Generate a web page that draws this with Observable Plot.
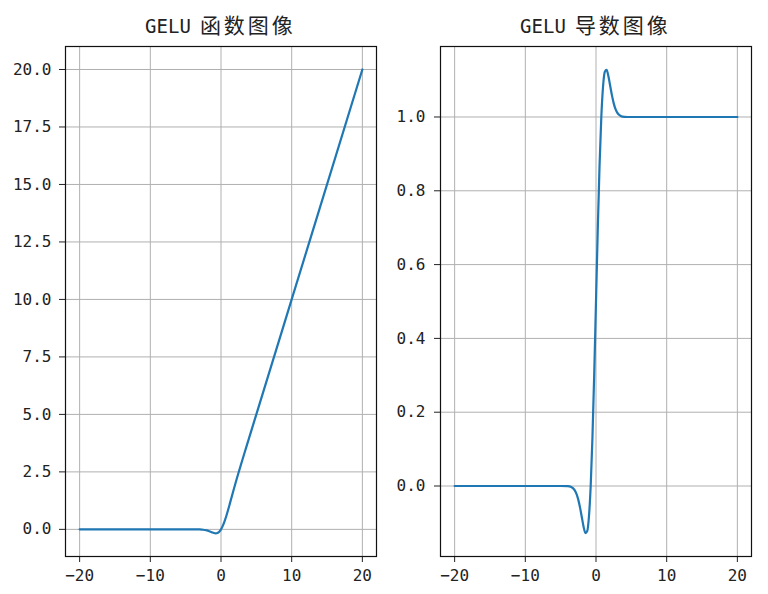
<!DOCTYPE html>
<html>
<head>
<meta charset="utf-8">
<script src="https://cdn.jsdelivr.net/npm/d3@7"></script>
<script src="https://cdn.jsdelivr.net/npm/@observablehq/plot@0.6"></script>
<style>
  html, body { margin: 0; padding: 0; background: #fff; }
  #wrap { position: relative; width: 768px; height: 594px; overflow: hidden; }
  .panel { position: absolute; top: 40px; }
  .title { position: absolute; top: 10px; text-align: center; color: #222; white-space: nowrap; line-height: 28px; }
  .title .lat { font-family: "DejaVu Sans Mono", monospace; font-size: 19px; }
  .title .cjk { font-family: "Noto Sans CJK SC", sans-serif; font-size: 21px; letter-spacing: 3px; margin-left: 9px; }
</style>
</head>
<body>
<div id="wrap"></div>
<script>
// ---- data ----
const geluX = [-20, -10, -5, -4, -3.5, -3, -2.75, -2.5, -2.25, -2, -1.75, -1.5, -1.25, -1, -0.75, -0.5, -0.25, 0, 0.25, 0.5, 0.75, 1, 1.25, 1.5, 1.75, 2, 2.25, 2.5, 2.75, 3, 3.5, 4, 5, 10, 20];
const geluY = [0, 0, 0, -0.0001, -0.0008, -0.004, -0.0082, -0.0155, -0.0275, -0.0455, -0.0701, -0.1002, -0.1321, -0.1587, -0.17, -0.1543, -0.1003, 0, 0.1497, 0.3457, 0.58, 0.8413, 1.1179, 1.3998, 1.6799, 1.9545, 2.2225, 2.4845, 2.7418, 2.996, 3.4992, 3.9999, 5, 10, 20];

const derivX = [-20, -10, -5, -4, -3.5, -3, -2.75, -2.5, -2.25, -2, -1.75, -1.5, -1.25, -1, -0.75, -0.5, -0.25, 0, 0.25, 0.5, 0.75, 1, 1.25, 1.5, 1.75, 2, 2.25, 2.5, 2.75, 3, 3.5, 4, 5, 10, 20];
const derivY = [0, 0, 0, -0.0005, -0.0028, -0.0119, -0.022, -0.0376, -0.0592, -0.0852, -0.1109, -0.1275, -0.1227, -0.0833, 0.0008, 0.1325, 0.3046, 0.5, 0.6954, 0.8675, 0.9992, 1.0833, 1.1227, 1.1275, 1.1109, 1.0852, 1.0592, 1.0376, 1.022, 1.0119, 1.0028, 1.0005, 1, 1, 1];

const xTicks = [-20, -10, 0, 10, 20];
const leftYTicks = [0, 2.5, 5, 7.5, 10, 12.5, 15, 17.5, 20];
const rightYTicks = [0, 0.2, 0.4, 0.6, 0.8, 1.0];

const leftTitle = ["GELU", "函数图像"];
const rightTitle = ["GELU", "导数图像"];

// ---- drawing ----
const lineColor = "#1f77b4";
const gridColor = "#b0b0b0";
const W = 384, H = 554;

function panel({xs, ys, yDomain, yTicks, marginLeft, marginRight, yPad}) {
  const data = xs.map((x, i) => ({x, y: ys[i]}));
  return Plot.plot({
    width: W,
    height: H,
    marginLeft,
    marginRight,
    marginTop: 6,
    marginBottom: 38,
    style: {fontFamily: "DejaVu Sans Mono, monospace", fontSize: "16px", color: "#222", background: "#fff"},
    x: {domain: [-22, 22]},
    y: {domain: yDomain},
    marks: [
      Plot.gridX(xTicks, {stroke: gridColor, strokeOpacity: 1, strokeWidth: 1}),
      Plot.gridY(yTicks, {stroke: gridColor, strokeOpacity: 1, strokeWidth: 1}),
      Plot.line(data, {x: "x", y: "y", stroke: lineColor, strokeWidth: 2.2, curve: "monotone-x"}),
      Plot.axisX(xTicks, {tickSize: 6, tickPadding: 7, label: null, tickFormat: d3.format("d"), stroke: "#222"}),
      Plot.axisY(yTicks, {tickSize: 6, tickPadding: yPad, label: null, tickFormat: d3.format(".1f"), stroke: "#222"}),
      Plot.frame({stroke: "#111", strokeWidth: 1.2})
    ]
  });
}

const wrap = document.getElementById("wrap");

function addPanel(left, svg, title, frameL, frameR) {
  const d = document.createElement("div");
  d.className = "panel";
  d.style.left = left + "px";
  d.appendChild(svg);
  wrap.appendChild(d);
  const t = document.createElement("div");
  t.className = "title";
  const center = (frameL + frameR) / 2;
  t.style.left = (center - 150) + "px";
  t.style.width = "300px";
  const a = document.createElement("span"); a.className = "lat"; a.textContent = title[0];
  const b = document.createElement("span"); b.className = "cjk"; b.textContent = title[1];
  t.appendChild(a);
  t.appendChild(b);
  wrap.appendChild(t);
}

addPanel(0, panel({xs: geluX, ys: geluY, yDomain: [-1.18, 21.0], yTicks: leftYTicks, marginLeft: 65, marginRight: 8, yPad: 8}), leftTitle, 65, 376);
addPanel(384, panel({xs: derivX, ys: derivY, yDomain: [-0.191, 1.191], yTicks: rightYTicks, marginLeft: 56, marginRight: 17, yPad: 9}), rightTitle, 440, 751);
</script>
</body>
</html>
